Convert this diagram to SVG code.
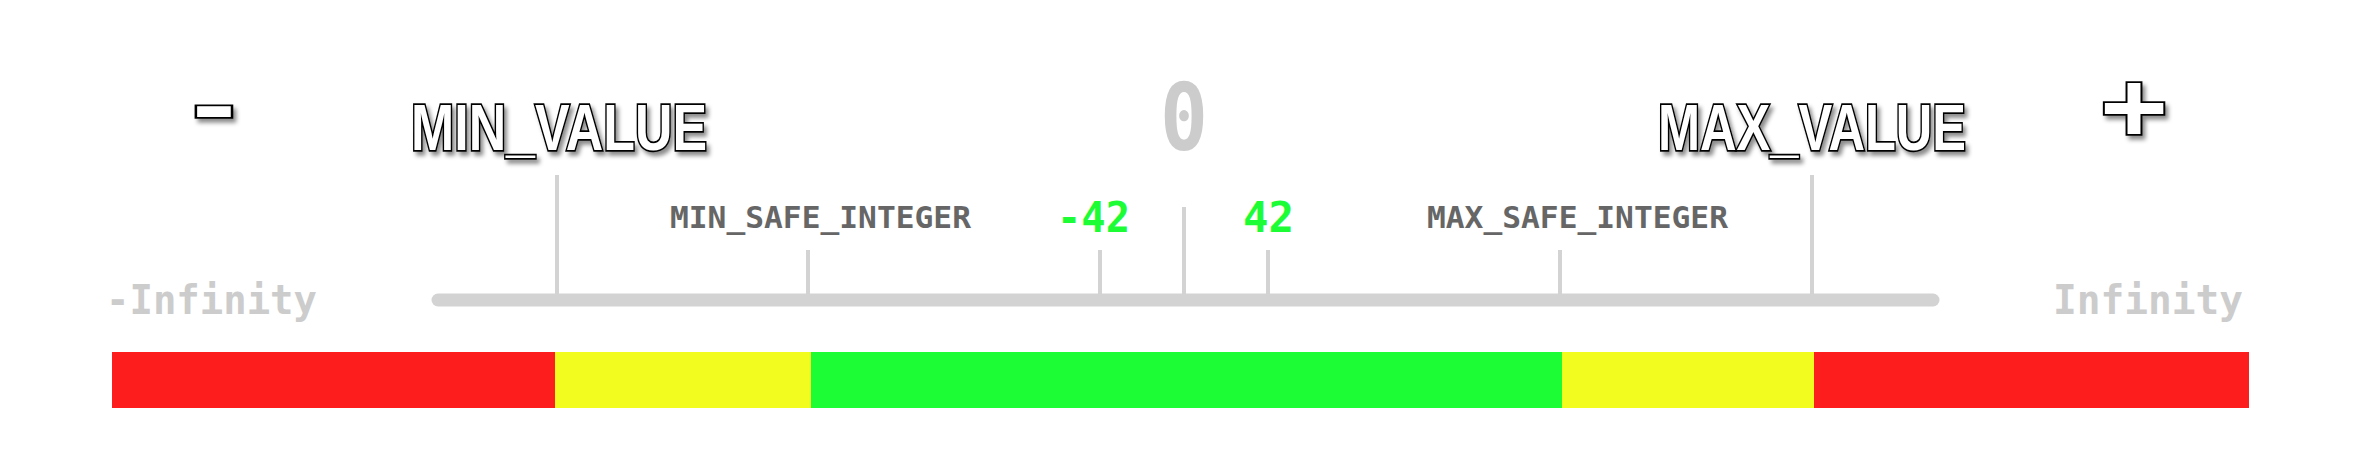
<svg xmlns="http://www.w3.org/2000/svg" width="2368" height="463" viewBox="0 0 2368 463">
<defs>
<style>
.big{font-family:"Liberation Sans",Arial,sans-serif;font-weight:bold;fill:#fff;stroke:#000;stroke-width:3.5;paint-order:stroke;filter:url(#sh)}
.mono{font-family:"DejaVu Sans Mono","Liberation Mono",monospace;font-weight:bold}
.tick{stroke:#d3d3d3;stroke-width:4}
</style>
<filter id="sh" x="-10%" y="-20%" width="130%" height="160%"><feDropShadow dx="3" dy="4" stdDeviation="2" flood-color="#000" flood-opacity="0.45"/></filter>
</defs>
<rect width="2368" height="463" fill="#fff"/>
<g id="bar">
<rect x="112" y="352" width="443" height="56" fill="#fd1d1d"/>
<rect x="555" y="352" width="256" height="56" fill="#f2fc1e"/>
<rect x="811" y="352" width="751" height="56" fill="#1cfd36"/>
<rect x="1562" y="352" width="252" height="56" fill="#f2fc1e"/>
<rect x="1814" y="352" width="435" height="56" fill="#fd1d1d"/>
</g>
<g id="connectors">
<line x1="438" y1="300" x2="1933" y2="300" stroke="#d3d3d3" stroke-width="13" stroke-linecap="round"/>
<line class="tick" x1="557" y1="175" x2="557" y2="296"/>
<line class="tick" x1="808" y1="250" x2="808" y2="296"/>
<line class="tick" x1="1100" y1="250" x2="1100" y2="296"/>
<line class="tick" x1="1184" y1="207" x2="1184" y2="296"/>
<line class="tick" x1="1268" y1="250" x2="1268" y2="296"/>
<line class="tick" x1="1560" y1="250" x2="1560" y2="296"/>
<line class="tick" x1="1812" y1="175" x2="1812" y2="296"/>
</g>
<g id="labels">
<text class="mono" x="106" y="314" font-size="40" fill="#cccccc" textLength="211" lengthAdjust="spacingAndGlyphs">-Infinity</text>
<text class="mono" x="2053" y="314" font-size="40" fill="#cccccc" textLength="190" lengthAdjust="spacingAndGlyphs">Infinity</text>
<text class="mono" x="670" y="228" font-size="31" fill="#666666" textLength="301" lengthAdjust="spacingAndGlyphs">MIN_SAFE_INTEGER</text>
<text class="mono" x="1427" y="228" font-size="31" fill="#666666" textLength="301" lengthAdjust="spacingAndGlyphs">MAX_SAFE_INTEGER</text>
<text class="mono" x="1057" y="232" font-size="42" fill="#1cfd36" textLength="73" lengthAdjust="spacingAndGlyphs">-42</text>
<text class="mono" x="1243" y="232" font-size="42" fill="#1cfd36" textLength="51" lengthAdjust="spacingAndGlyphs">42</text>
<text class="mono" x="1160" y="150" font-size="92" fill="#cccccc" textLength="48" lengthAdjust="spacingAndGlyphs">0</text>
<text class="big" x="411" y="150" font-size="64" textLength="296" lengthAdjust="spacingAndGlyphs">MIN_VALUE</text>
<text class="big" x="1658" y="150" font-size="64" textLength="308" lengthAdjust="spacingAndGlyphs">MAX_VALUE</text>
<text class="big" x="192" y="135" font-size="90" textLength="44" lengthAdjust="spacingAndGlyphs">-</text>
<text class="big" x="2100" y="142" font-size="100" textLength="68" lengthAdjust="spacingAndGlyphs">+</text>
</g>
</svg>
